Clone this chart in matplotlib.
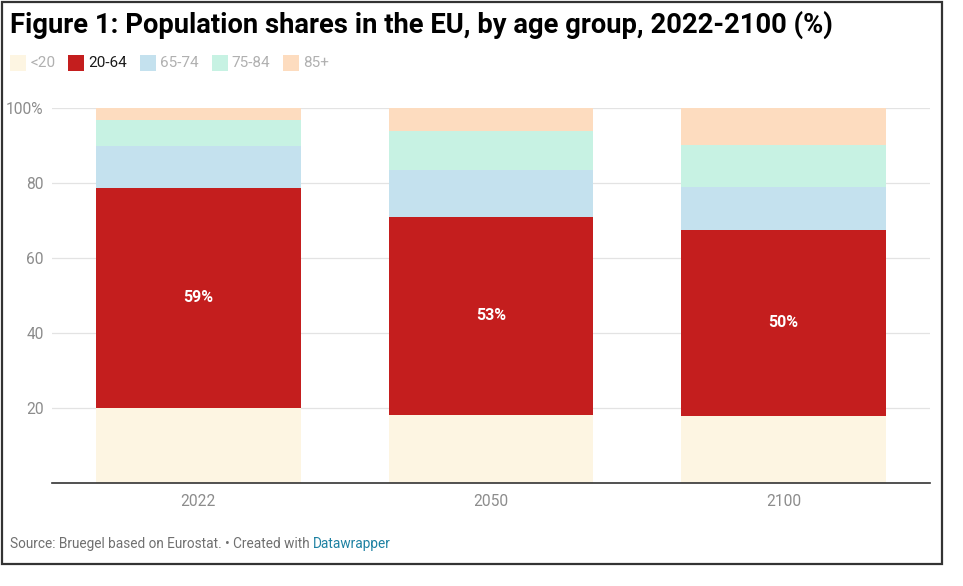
import matplotlib.pyplot as plt
from matplotlib.patches import Rectangle
import numpy as np

plt.rcParams['font.family'] = ['Roboto', 'DejaVu Sans']

years = ['2022', '2050', '2100']
groups = ['<20', '20-64', '65-74', '75-84', '85+']
under_20 = [20.0, 18.1, 17.9]
age_20_64 = [58.7, 52.9, 49.6]
age_65_74 = [11.2, 12.5, 11.5]
age_75_84 = [6.9, 10.4, 11.1]
age_85_plus = [3.2, 6.1, 9.9]
bar_labels = ['59%', '53%', '50%']
yticks = [20, 40, 60, 80, 100]
ytick_labels = ['20', '40', '60', '80', '100%']

colors = ['#fdf5e2', '#c41e1e', '#c4e1ee', '#c7f2e3', '#fddcbf']
series = [under_20, age_20_64, age_65_74, age_75_84, age_85_plus]

W, H = 963, 586
fig = plt.figure(figsize=(W / 100, H / 100), dpi=100)
ax = fig.add_axes([52 / W, 1 - 483 / H, (930 - 52) / W, (483 - 108) / H])

x = np.arange(len(years))
bottom = np.zeros(len(years))
for vals, col in zip(series, colors):
    ax.bar(x, vals, width=0.7, bottom=bottom, color=col, linewidth=0, zorder=2)
    bottom += np.array(vals)

# labels inside the 20-64 segment
for i, lab in enumerate(bar_labels):
    mid = under_20[i] + age_20_64[i] / 2
    ax.text(x[i], mid, lab, ha='center', va='center', color='white',
            fontsize=11.5, fontweight='bold', zorder=3)

ax.set_xlim(-0.5, 2.5)
ax.set_ylim(0, 100)
ax.set_yticks(yticks)
ax.set_yticklabels(ytick_labels)
ax.set_xticks(x)
ax.set_xticklabels(years)
ax.tick_params(axis='both', length=0, labelsize=11.2, labelcolor='#8c8c8c')
ax.tick_params(axis='y', pad=6)
ax.tick_params(axis='x', pad=8)
ax.grid(True, axis='y', color='#e3e3e3', linewidth=0.9, zorder=0)
ax.set_axisbelow(True)
for s in ['top', 'right', 'left']:
    ax.spines[s].set_visible(False)
ax.spines['bottom'].set_color('#333333')
ax.spines['bottom'].set_linewidth(1.2)
ax.spines['bottom'].set_zorder(4)

# title
fig.text(10 / W, 1 - 25 / H, 'Figure 1: Population shares in the EU, by age group, 2022-2100 (%)',
         fontsize=19.7, fontweight='bold', color='#000000', va='center', ha='left')

# legend
fig.canvas.draw()
renderer = fig.canvas.get_renderer()
lx = 10
ly = 63
for g, col in zip(groups, colors):
    fig.add_artist(Rectangle((lx / W, 1 - (ly + 8) / H), 16 / W, 16 / H,
                             transform=fig.transFigure, color=col, linewidth=0))
    tcol = '#1a1a1a' if g == '20-64' else '#b0b0b0'
    t = fig.text((lx + 20) / W, 1 - ly / H, g, fontsize=11, color=tcol, va='center', ha='left')
    w = t.get_window_extent(renderer).width
    lx = lx + 20 + w + 13

# source line
src = fig.text(10 / W, 1 - 544 / H, 'Source: Bruegel based on Eurostat. \u2022 Created with ',
               fontsize=9.8, color='#707070', va='center', ha='left')
sw = src.get_window_extent(renderer).width
fig.text((10 + sw) / W, 1 - 544 / H, 'Datawrapper', fontsize=9.8, color='#1d81a2',
         va='center', ha='left')

# outer frame
fig.add_artist(Rectangle((1.5 / W, 1 - 564 / H), 940.5 / W, 562.5 / H,
                         transform=fig.transFigure, fill=False,
                         edgecolor='#333333', linewidth=1.6))

fig.savefig('out.png', dpi=100)
